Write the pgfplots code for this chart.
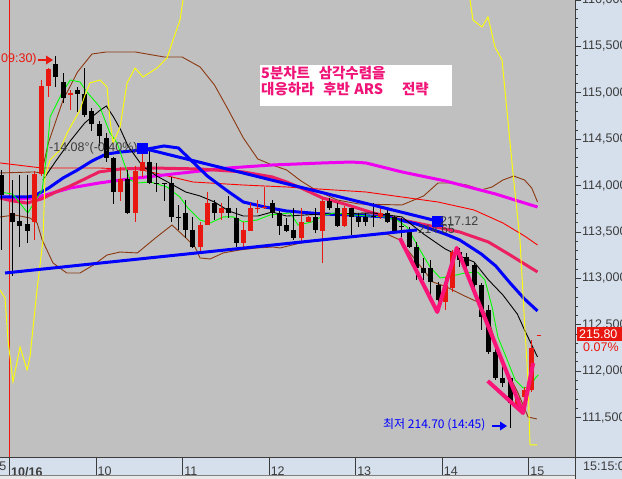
\documentclass[border=0pt]{standalone}
\usepackage{fontspec}
\setmainfont{Liberation Sans}
\newfontfamily\cjk{Noto Sans CJK KR}
\usepackage{pgfplots}
\pgfplotsset{compat=1.18}
\definecolor{bggray}{RGB}{192,192,192}
\definecolor{panel}{RGB}{214,224,236}
\definecolor{strip}{RGB}{232,232,232}
\definecolor{candred}{RGB}{232,24,16}
\definecolor{brownl}{RGB}{140,56,16}
\definecolor{crim}{RGB}{236,32,96}
\definecolor{magen}{RGB}{240,0,240}
\definecolor{pinkz}{RGB}{250,20,120}
\definecolor{txtpink}{RGB}{240,20,120}
\definecolor{dgray}{RGB}{60,60,60}
\definecolor{ygreen}{RGB}{0,255,0}
\definecolor{yell}{RGB}{255,255,0}
\begin{document}
\begin{tikzpicture}[x=1pt,y=1pt]
\useasboundingbox (0,0) rectangle (622,-479);
\clip (0,0) rectangle (622,-479);
\fill[panel] (0,0) rectangle (622,-479);
\fill[strip] (0,-475) rectangle (575,-479);
\begin{axis}[
 at={(0pt,0pt)}, anchor=north west,
 width=575pt, height=457pt, scale only axis,
 xmin=-1.75, xmax=78, ymin=111075, ymax=116000,
 axis background/.style={fill=bggray},
 axis x line*=bottom, axis y line*=right,
 axis line style={dgray, line width=0.8pt},
 clip mode=individual,
 unbounded coords=jump,
 xtick={-0.5,11.5,23.5,35.5,47.5,59.5,71.5},
 xticklabels={\textbf{10/16},10,11,12,13,14,15},
 xtick style={draw=none},
 xticklabel style={anchor=north west, inner sep=0pt, xshift=2pt, yshift=-4pt},
 ytick={111500,112000,112500,113000,113500,114000,114500,115000,115500,116000},
 scaled y ticks=false,
 minor y tick num=4,
 tick align=outside,
 major tick length=6pt, minor tick length=3pt,
 every tick/.style={dgray, line width=0.8pt},
 yticklabel style={anchor=west, inner sep=0pt, xshift=1pt},
 /pgf/number format/fixed, /pgf/number format/1000 sep={,},
 /pgf/number format/assume math mode=true,
 tick label style={font=\fontsize{12.5}{14}\selectfont, text=dgray},
]
% day separator
\draw[candred] (axis cs:-0.5,111075) -- (axis cs:-0.5,116000);
% Bollinger bands (brown)
\addplot[brownl, line width=0.9pt] coordinates {(-1.75,114136) (3,114147) (4,114136) (5,114470) (7,114922) (9,115224) (11,115418) (13,115440) (17,115440) (21,115386) (23.5,115386) (26,115278) (28,115084) (30,114804) (32,114513) (34,114287) (36,114222) (38,114168) (40,114050) (42,113953) (45,113845) (48,113802) (54,113791) (57,113888) (59,114028) (61,114028) (63,114006) (65,113953) (66.5,113985) (68,114060) (69.5,114103) (71,114060) (72,113974) (72.8,113823)};
\addplot[brownl, line width=0.9pt] coordinates {(-1.75,113662) (0.3,113683) (2.4,113651) (3.4,113597) (4.1,113414) (5.6,113166) (7.5,113058) (9.35,113058) (11.2,113144) (13.1,113252) (14.9,113284) (17.3,113274) (19.8,113435) (22.1,113575) (23.9,113446) (25.3,113338) (26,113220) (27.4,113209) (29.2,113274) (31.5,113306) (33.9,113328) (36.1,113338) (37.1,113328) (39.9,113381) (45.4,113435) (51.6,113489) (53.7,113414) (56.1,113177) (58.3,112961) (60.2,112907) (62.7,112810) (64.5,112746) (65.9,112584) (67.3,112228) (68.7,111981) (70.1,111765) (71.5,111506) (72.7,111485)};
% red thin MA
\addplot[red, line width=0.9pt] coordinates {(-1.75,114244) (4,114190) (12,114190) (18,114168) (25,114039) (32,114006) (38,113985) (49,113931) (59,113823) (64,113737) (68,113597) (71,113457) (72.8,113360)};
% magenta long MA
\addplot[magen, line width=3pt] coordinates {(-1.75,113866) (1,113856) (3,113866) (5,113909) (8,113974) (12,114028) (16,114071) (21,114114) (26,114157) (30,114190) (36,114222) (43,114244) (47,114254) (49,114244) (54,114147) (60,114050) (67,113909) (72.8,113769)};
% crimson MA
\addplot[crim, line width=3pt] coordinates {(-1.75,113866) (0,113834) (2,113812) (4,113856) (6,113931) (8,113996) (10,114071) (12,114147) (15,114179) (19,114190) (26,114179) (32,114147) (36,114093) (38,114039) (40,113974) (43,113866) (46,113802) (50,113705) (54,113629) (58,113565) (62,113500) (66,113392) (69,113252) (71,113155) (72.8,113069)};
% blue MA
\addplot[blue, line width=3pt] coordinates {(-1.75,113877) (0,113877) (2,113877) (3,113888) (5,113974) (7,114082) (9,114168) (11,114265) (13,114340) (15,114362) (18,114384) (21,114427) (23,114405) (25,114254) (27,114103) (30,113931) (32,113823) (35,113769) (38,113726) (43,113694) (47,113683) (52,113662) (56,113586) (60,113478) (62,113414) (65,113263) (67,113134) (69,112950) (71,112778) (72.8,112649)};
% black MA
\addplot[black, line width=0.9pt] coordinates {(4.2,114060) (6,114265) (8,114481) (10,114675) (12,114804) (13,114858) (14,114739) (15,114599) (16,114427) (18,114211) (20,114103) (22,114017) (24,113931) (26,113888) (28,113823) (30,113726) (32,113672) (34,113672) (36,113715) (38,113672) (43,113694) (50,113705) (54,113662) (57,113478) (60,113317) (62,113241) (64,113177) (66,112983) (68,112821) (70,112616) (71,112444) (72.8,112153)};
% green MA
\addplot[ygreen, line width=0.9pt] coordinates {(-1.75,113931) (0,113909) (2.1,113705) (4.1,113953) (4.8,114384) (5.2,114739) (6.85,114998) (8,115138) (9.35,115116) (10.3,115009) (12.1,114847) (13.5,114567) (14.5,114459) (15.3,114276) (16.3,114060) (17.3,114028) (19.1,114039) (21.4,113985) (23.2,113877) (24.2,113769) (26,113629) (27.4,113597) (29.2,113662) (30.6,113662) (32,113608) (33.9,113629) (35.7,113683) (38.5,113705) (39.6,113575) (41.5,113608) (43.3,113683) (44.7,113705) (47.1,113683) (51.6,113662) (53.3,113629) (54.7,113554) (56.5,113306) (57.9,113123) (59.3,113004) (61.6,113037) (62.7,113058) (64.5,113069) (65.5,112983) (66.5,112692) (67.3,112369) (68.6,112121) (69.7,111905) (70.8,111819) (71.8,111830) (72.5,111927) (72.9,111959)};
% black candles: wicks
\addplot[black, line width=1pt] coordinates {
(-1.6,113306) (-1.6,114168) (-1.6,nan)
(0,113026) (0,114060) (0,nan) (1,113338) (1,114114) (1,nan) (2,113381) (2,114114) (2,nan)
(6,115063) (6,115397) (6,nan) (7,114890) (7,115213) (7,nan) (9,114793) (9,115063) (9,nan)
(10,114739) (10,115267) (10,nan) (11,114588) (11,114836) (11,nan) (12,114427) (12,114696) (12,nan)
(13,114254) (13,114567) (13,nan) (14,113802) (14,114308) (14,nan) (16,113695) (16,114168) (16,nan)
(19,114017) (19,114373) (19,nan) (20,113931) (20,114244) (20,nan) (21,113834) (21,114028) (21,nan)
(22,113608) (22,114093) (22,nan) (23,113522) (23,113791) (23,nan) (24,113435) (24,113845) (24,nan)
(25,113328) (25,113662) (25,nan) (28,113629) (28,113845) (28,nan) (30,113651) (30,113888) (30,nan)
(31,113338) (31,113759) (31,nan) (36,113651) (36,113845) (36,nan) (37,113468) (37,113726) (37,nan)
(38,113500) (38,113651) (38,nan) (39,113414) (39,113759) (39,nan) (42,113489) (42,113759) (42,nan)
(44,113737) (44,113866) (44,nan) (45,113554) (45,113812) (45,nan) (47,113468) (47,113759) (47,nan)
(48,113554) (48,113705) (48,nan) (49,113565) (49,113705) (49,nan) (50,113554) (50,113812) (50,nan)
(52,113597) (52,113737) (52,nan) (53,113489) (53,113672) (53,nan) (54,113446) (54,113651) (54,nan)
(55,113328) (55,113554) (55,nan) (56,112983) (56,113392) (56,nan) (57,112983) (57,113220) (57,nan)
(58,112767) (58,113198) (58,nan) (59,112659) (59,112961) (59,nan) (62,113123) (62,113328) (62,nan)
(63,113090) (63,113274) (63,nan) (64,112875) (64,113177) (64,nan) (65,112444) (65,112950) (65,nan)
(66,112190) (66,112713) (66,nan) (67,111905) (67,112282) (67,nan) (68,111830) (68,112088) (68,nan)
(69,111388) (69,111937)};
% black candles: bodies
\addplot[black, line width=5pt] coordinates {
(-1.6,114114) (-1.6,113899) (-1.6,nan)
(0,113705) (0,113608) (0,nan) (1,113618) (1,113565) (1,nan) (2,113586) (2,113511) (2,nan)
(6,115310) (6,115170) (6,nan) (7,115116) (7,114944) (7,nan) (9,115030) (9,114987) (9,nan)
(10,114987) (10,114761) (10,nan) (11,114804) (11,114664) (11,nan) (12,114664) (12,114534) (12,nan)
(13,114513) (13,114297) (13,nan) (14,114297) (14,113931) (14,nan) (16,114071) (16,113705) (16,nan)
(19,114254) (19,114028) (19,nan) (20,114028) (20,114017) (20,nan) (21,114028) (21,114017) (21,nan)
(22,114028) (22,113662) (22,nan) (23,113662) (23,113651) (23,nan) (24,113705) (24,113522) (24,nan)
(25,113522) (25,113338) (25,nan) (28,113812) (28,113705) (28,nan) (30,113759) (30,113705) (30,nan)
(31,113651) (31,113381) (31,nan) (36,113812) (36,113705) (36,nan) (37,113705) (37,113565) (37,nan)
(38,113575) (38,113511) (38,nan) (39,113522) (39,113435) (39,nan) (42,113662) (42,113522) (42,nan)
(44,113834) (44,113759) (44,nan) (45,113759) (45,113565) (45,nan) (47,113759) (47,113662) (47,nan)
(48,113662) (48,113608) (48,nan) (49,113662) (49,113608) (49,nan) (50,113672) (50,113662) (50,nan)
(52,113705) (52,113608) (52,nan) (53,113662) (53,113500) (53,nan) (54,113565) (54,113554) (54,nan)
(55,113522) (55,113338) (55,nan) (56,113338) (56,113112) (56,nan) (57,113112) (57,113058) (57,nan)
(58,113112) (58,112961) (58,nan) (59,112929) (59,112767) (59,nan) (62,113284) (62,113198) (62,nan)
(63,113231) (63,113134) (63,nan) (64,113144) (64,112929) (64,nan) (65,112929) (65,112584) (65,nan)
(66,112659) (66,112207) (66,nan) (67,112207) (67,111927) (67,nan) (68,111927) (68,111873) (68,nan)
(69,111927) (69,111657)};
% red candles: wicks
\addplot[candred, line width=1pt] coordinates {
(3,113414) (3,114157) (3,nan) (4,114103) (4,115138) (4,nan) (5,114955) (5,115267) (5,nan)
(8,114815) (8,115030) (8,nan) (15,113834) (15,114200) (15,nan) (17,113608) (17,114211) (17,nan)
(18,114093) (18,114384) (18,nan) (26,113284) (26,113608) (26,nan) (27,113575) (27,113931) (27,nan)
(29,113629) (29,113812) (29,nan) (32,113328) (32,113608) (32,nan) (33,113511) (33,113812) (33,nan)
(34,113705) (34,113845) (34,nan) (35,113748) (35,113985) (35,nan) (40,113392) (40,113759) (40,nan)
(41,113608) (41,113672) (41,nan) (43,113166) (43,113856) (43,nan) (46,113554) (46,113780) (46,nan)
(51,113640) (51,113759) (51,nan) (60,112659) (60,113015) (60,nan) (61,112853) (61,113306) (61,nan)
(70,111603) (70,111733) (70,nan) (71,111582) (71,111830) (71,nan) (72,111776) (72,112336)};
% red candles: bodies
\addplot[candred, line width=5pt] coordinates {
(3,113608) (3,114125) (3,nan) (4,114125) (4,115073) (4,nan) (5,115073) (5,115256) (5,nan)
(8,114976) (8,114998) (8,nan) (15,113931) (15,114071) (15,nan) (17,113705) (17,114157) (17,nan)
(18,114157) (18,114254) (18,nan) (26,113338) (26,113575) (26,nan) (27,113575) (27,113812) (27,nan)
(29,113705) (29,113759) (29,nan) (32,113381) (32,113522) (32,nan) (33,113511) (33,113759) (33,nan)
(34,113748) (34,113759) (34,nan) (35,113759) (35,113769) (35,nan) (40,113435) (40,113608) (40,nan)
(41,113608) (41,113662) (41,nan) (43,113511) (43,113834) (43,nan) (46,113565) (46,113759) (46,nan)
(51,113662) (51,113705) (51,nan) (60,112746) (60,112929) (60,nan) (61,112896) (61,113284) (61,nan)
(70,111614) (70,111711) (70,nan) (71,111722) (71,111797) (71,nan) (72,111797) (72,112250)};
% yellow indicator line
\addplot[yell, line width=0.9pt] coordinates {(-1.75,112875) (-1.05,112789) (-0.64,112336) (0.05,111884) (1.03,112261) (2,112013) (2.41,112153) (3.38,112875) (4.22,113414) (4.49,114093) (5.19,114276) (6.57,114384) (7.55,114567) (9.35,114815) (10.04,114976) (10.73,115106) (12.12,115138) (13.09,115063) (13.51,114707) (13.93,114459) (14.9,114631) (15.87,115106) (16.98,115267) (18.08,115170) (20.03,115267) (21.42,115375) (22.25,115569) (23.22,115784) (23.63,116000) (24.6,116431) (62.75,116431) (63.44,116000) (63.85,115784) (65.1,115709) (65.93,115817) (66.9,115494) (67.88,115353) (69.4,114136) (70.37,113414) (71.06,112444) (71.48,111905) (71.76,111205) (72.73,111205)};
% trendline labels
\node[anchor=west, inner sep=0pt, text=dgray, font=\fontsize{12}{14}\selectfont] at (axis cs:56.2,113532) {214.65};
% ascending trendline
\addplot[blue, line width=3pt] coordinates {(-1.05,113058) (56.1,113522)};
% descending trendline with end squares
\addplot[blue, line width=3pt, mark=square*, mark size=4pt] coordinates {(17.95,114405) (58.9,113618)};
% pink zigzag
\addplot[pinkz, line width=4pt, line join=round] coordinates {(53.7,113435) (58.9,112638) (61.6,113328) (70.8,111549) (72.2,112088)};
\addplot[pinkz, line width=4pt, line join=round] coordinates {(65.9,111894) (70.8,111549)};
\end{axis}
% bottom strip separators
\draw[dgray, line width=0.8pt] (0,-457.5) -- (622,-457.5);
\draw[gray, line width=0.6pt] (0,-475) -- (575,-475);
\draw[dgray, line width=0.8pt] (575,0) -- (575,-479);
\foreach \xx in {9.5,96,182.5,269,355.5,442,528.5} {\draw[dgray, line width=0.8pt] (\xx,-458) -- (\xx,-475);}
\node[anchor=east, inner sep=0pt, text=dgray, font=\fontsize{12.5}{14}\selectfont] at (6.5,-466) {15};
\node[anchor=west, inner sep=0pt, text=dgray, font=\fontsize{12.5}{14}\selectfont] at (583,-466) {15:15:00};
% right panel current price
\fill[candred] (577,-327) rectangle (622,-341);
\node[anchor=west, inner sep=0pt, text=white, font=\fontsize{12.5}{14}\selectfont] at (579,-334) {215.80};
\node[anchor=west, inner sep=0pt, text=candred, font=\fontsize{12.5}{14}\selectfont] at (583,-347) {0.07\%};
\draw[candred, line width=1pt] (537,-335) -- (541,-335);
% top-left annotation
\node[anchor=west, inner sep=0pt, text=candred, font=\fontsize{12.5}{14}\selectfont] at (1,-59) {09:30)};
\draw[candred, line width=1.3pt] (38,-60) -- (47,-60);
\fill[candred] (46,-55.5) -- (53,-60) -- (46,-64.5) -- cycle;
% angle label
\node[anchor=west, inner sep=0pt, text=dgray, font=\fontsize{12.5}{14}\selectfont] at (49,-148) {-14.08°(-0.40\%)};
\node[anchor=west, inner sep=0pt, text=dgray, font=\fontsize{12.5}{14}\selectfont] at (440,-221) {217.12};
% comment box
\fill[white] (260,-65) rectangle (452,-106);
\node[anchor=west, inner sep=0pt, text=txtpink, font=\cjk\bfseries\fontsize{14.5}{16}\selectfont] at (261,-73) {5분차트\hspace{0.6em}삼각수렴을};
\node[anchor=west, inner sep=0pt, text=txtpink, font=\cjk\bfseries\fontsize{14.5}{16}\selectfont] at (261,-89) {대응하라\hspace{0.6em}후반\hspace{0.3em}ARS\hspace{1.3em}전략};
% low annotation
\node[anchor=west, inner sep=0pt, text=blue, font=\cjk\fontsize{12}{14}\selectfont] at (383,-425) {최저 214.70 (14:45)};
\draw[blue, line width=1.3pt] (492,-426) -- (501,-426);
\fill[blue] (500,-421.5) -- (507,-426) -- (500,-430.5) -- cycle;
\end{tikzpicture}
\end{document}
